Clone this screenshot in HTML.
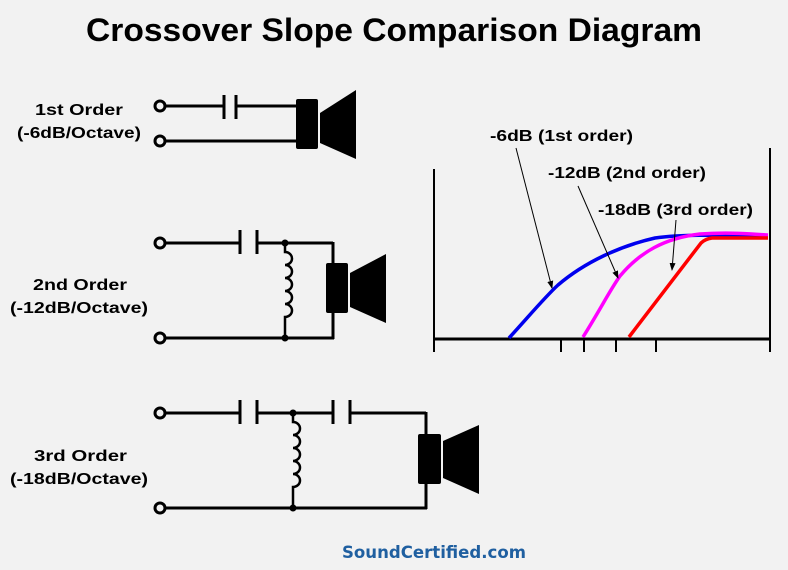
<!DOCTYPE html>
<html><head><style>
html,body{margin:0;padding:0;background:#f2f2f2;}
svg{display:block;}
text{font-family:"Liberation Sans",sans-serif;font-weight:bold;fill:#000;}
</style></head><body>
<svg width="788" height="570" viewBox="0 0 788 570" xmlns="http://www.w3.org/2000/svg">
<rect width="788" height="570" fill="#f2f2f2"/>
<text x="86" y="41" font-size="32" textLength="616" lengthAdjust="spacingAndGlyphs">Crossover Slope Comparison Diagram</text>

<g font-size="16">
<text x="35" y="115" textLength="88" lengthAdjust="spacingAndGlyphs">1st Order</text>
<text x="17" y="138" textLength="124" lengthAdjust="spacingAndGlyphs">(-6dB/Octave)</text>
<text x="33" y="290" textLength="94" lengthAdjust="spacingAndGlyphs">2nd Order</text>
<text x="10" y="313" textLength="138" lengthAdjust="spacingAndGlyphs">(-12dB/Octave)</text>
<text x="34" y="461" textLength="93" lengthAdjust="spacingAndGlyphs">3rd Order</text>
<text x="10" y="484" textLength="138" lengthAdjust="spacingAndGlyphs">(-18dB/Octave)</text>
</g>

<g stroke="#000" stroke-width="3" fill="none">
<line x1="165" y1="106" x2="224" y2="106"/><line x1="236" y1="106" x2="298" y2="106"/>
<line x1="224" y1="95" x2="224" y2="119"/><line x1="236" y1="95" x2="236" y2="119"/>
<line x1="165" y1="141" x2="298" y2="141"/>
<circle cx="160" cy="106" r="5"/><circle cx="160" cy="141" r="5"/>
<line x1="165" y1="243" x2="240" y2="243"/><line x1="257" y1="243" x2="333" y2="243"/>
<line x1="240" y1="230" x2="240" y2="254"/><line x1="257" y1="230" x2="257" y2="254"/>
<line x1="333" y1="242" x2="333" y2="265"/><line x1="333" y1="312" x2="333" y2="339"/>
<line x1="165" y1="338" x2="334" y2="338"/>
<circle cx="160" cy="243" r="5"/><circle cx="160" cy="338" r="5"/>
<path d="M285 243 V252 a7 6.5 0 0 1 0 13 a7 6.5 0 0 1 0 13 a7 6.5 0 0 1 0 13 a7 6.5 0 0 1 0 13 a7 6.5 0 0 1 0 13 V338" stroke-width="2.5"/>
<line x1="165" y1="413" x2="240" y2="413"/><line x1="257" y1="413" x2="333" y2="413"/><line x1="350" y1="413" x2="426" y2="413"/>
<line x1="240" y1="400" x2="240" y2="424"/><line x1="257" y1="400" x2="257" y2="424"/>
<line x1="333" y1="400" x2="333" y2="424"/><line x1="350" y1="400" x2="350" y2="424"/>
<line x1="426" y1="412" x2="426" y2="436"/><line x1="426" y1="482" x2="426" y2="509"/>
<line x1="165" y1="508" x2="427" y2="508"/>
<circle cx="160" cy="413" r="5"/><circle cx="160" cy="508" r="5"/>
<path d="M293 413 V422 a7 6.5 0 0 1 0 13 a7 6.5 0 0 1 0 13 a7 6.5 0 0 1 0 13 a7 6.5 0 0 1 0 13 a7 6.5 0 0 1 0 13 V508" stroke-width="2.5"/>
</g>
<g fill="#000">
<rect x="296" y="99" width="22" height="50" rx="2"/>
<polygon points="320,113 356,90 356,159 320,143"/>
<rect x="326" y="263" width="22" height="50" rx="2"/>
<polygon points="350,273 386,254 386,323 350,307"/>
<rect x="418" y="434" width="23" height="50" rx="2"/>
<polygon points="443,441 479,425 479,494 443,478"/>
<circle cx="285" cy="243" r="3.5"/><circle cx="285" cy="338" r="3.5"/>
<circle cx="293" cy="413" r="3.5"/><circle cx="293" cy="508" r="3.5"/>
</g>

<g stroke="#000" fill="none">
<line x1="434" y1="169" x2="434" y2="352" stroke-width="2"/>
<line x1="770" y1="148" x2="770" y2="352" stroke-width="2"/>
<line x1="434" y1="339" x2="770" y2="339" stroke-width="3"/>
<line x1="561" y1="339" x2="561" y2="352" stroke-width="2"/>
<line x1="584" y1="339" x2="584" y2="352" stroke-width="2"/>
<line x1="616" y1="339" x2="616" y2="352" stroke-width="2"/>
<line x1="656" y1="339" x2="656" y2="352" stroke-width="2"/>
</g>
<g fill="none" stroke-width="3.5">
<path d="M509 338 C530 315 545 297 558 285 C585 262 620 246 655 238 C690 233 730 236 768 237" stroke="#0000ee"/>
<path d="M583 337 C600 310 610 290 620 276 C640 252 665 238 700 234 C730 232 750 234 768 235" stroke="#ff00ff"/>
<path d="M629 337 L701 243 Q705 239 712 238 L768 238" stroke="#ff0000"/>
</g>
<g font-size="16">
<text x="490" y="141" textLength="143" lengthAdjust="spacingAndGlyphs">-6dB (1st order)</text>
<text x="548" y="178" textLength="158" lengthAdjust="spacingAndGlyphs">-12dB (2nd order)</text>
<text x="598" y="215" textLength="155" lengthAdjust="spacingAndGlyphs">-18dB (3rd order)</text>
</g>
<defs><marker id="a" markerWidth="8" markerHeight="8" refX="7" refY="4" orient="auto" markerUnits="userSpaceOnUse"><path d="M0,1 L8,4 L0,7 Z" fill="#000"/></marker></defs>
<g stroke="#000" stroke-width="1" marker-end="url(#a)">
<line x1="516" y1="148" x2="552" y2="288"/>
<line x1="578" y1="186" x2="618" y2="278"/>
<line x1="676" y1="220" x2="672" y2="270"/>
</g>
<text x="342" y="558" font-size="17" style="fill:#1f5fa0;font-family:'DejaVu Sans',sans-serif;font-weight:bold" textLength="184" lengthAdjust="spacingAndGlyphs">SoundCertified.com</text>
</svg>
</body></html>
